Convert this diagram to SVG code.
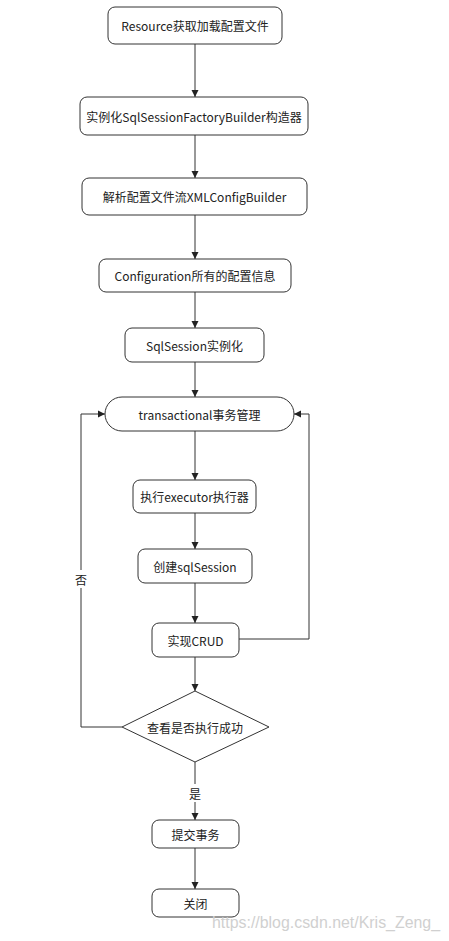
<svg xmlns="http://www.w3.org/2000/svg" width="449" height="941" viewBox="0 0 449 941">
<style>
.n{fill:#fff;stroke:#333;stroke-width:1}
.t{font-family:"Noto Sans CJK SC","Noto Sans",sans-serif;font-size:12px;fill:#222;text-anchor:middle;dominant-baseline:central}
.c{fill:none;stroke:#333;stroke-width:1}
.wm{font-family:"Liberation Sans",Arial,sans-serif;font-size:16px;fill:#d0d0d0}
</style>
<defs>
<marker id="a" markerWidth="8" markerHeight="8" refX="7" refY="4" orient="auto" markerUnits="userSpaceOnUse">
<path d="M0,0.5 L7,4 L0,7.5 Z" fill="#222"/>
</marker>
</defs>
<rect width="449" height="941" fill="#fff"/>
<g id="connectors">
<line class="c" x1="195" y1="44" x2="195" y2="97" marker-end="url(#a)"/>
<line class="c" x1="195" y1="135" x2="195" y2="178" marker-end="url(#a)"/>
<line class="c" x1="195" y1="215" x2="195" y2="259" marker-end="url(#a)"/>
<line class="c" x1="195" y1="292" x2="195" y2="328" marker-end="url(#a)"/>
<line class="c" x1="195" y1="362" x2="195" y2="397" marker-end="url(#a)"/>
<line class="c" x1="195" y1="431" x2="195" y2="480" marker-end="url(#a)"/>
<line class="c" x1="195" y1="513" x2="195" y2="549" marker-end="url(#a)"/>
<line class="c" x1="195" y1="583" x2="195" y2="623" marker-end="url(#a)"/>
<line class="c" x1="195" y1="657" x2="195" y2="691" marker-end="url(#a)"/>
<polyline class="c" points="239,639 309,639 309,414 294,414" marker-end="url(#a)"/>
<polyline class="c" points="122,727 81,727 81,414 105,414" marker-end="url(#a)"/>
<line class="c" x1="195" y1="762" x2="195" y2="820" marker-end="url(#a)"/>
<line class="c" x1="195" y1="848" x2="195" y2="889" marker-end="url(#a)"/>
<rect x="73" y="570" width="16" height="18" fill="#fff"/>
<text class="t" x="81" y="579">否</text>
<rect x="187" y="784" width="16" height="18" fill="#fff"/>
<text class="t" x="195" y="793">是</text>
</g>
<g id="n1"><rect class="n" x="108" y="7" width="174" height="37" rx="7"/><text class="t" x="195" y="25.5">Resource获取加载配置文件</text></g>
<g id="n2"><rect class="n" x="80" y="97" width="228" height="38" rx="7"/><text class="t" x="194" y="116">实例化SqlSessionFactoryBuilder构造器</text></g>
<g id="n3"><rect class="n" x="82" y="178" width="225" height="37" rx="7"/><text class="t" x="194.5" y="196.5">解析配置文件流XMLConfigBuilder</text></g>
<g id="n4"><rect class="n" x="99" y="259" width="192" height="33" rx="7"/><text class="t" x="195" y="275.5">Configuration所有的配置信息</text></g>
<g id="n5"><rect class="n" x="125" y="328" width="139" height="34" rx="7"/><text class="t" x="194.5" y="345">SqlSession实例化</text></g>
<g id="n6"><rect class="n" x="105" y="397" width="189" height="34" rx="17"/><text class="t" x="199.5" y="414">transactional事务管理</text></g>
<g id="n7"><rect class="n" x="133" y="480" width="123" height="33" rx="7"/><text class="t" x="194.5" y="496.5">执行executor执行器</text></g>
<g id="n8"><rect class="n" x="138" y="549" width="114" height="34" rx="7"/><text class="t" x="195" y="566">创建sqlSession</text></g>
<g id="n9"><rect class="n" x="152" y="623" width="87" height="34" rx="7"/><text class="t" x="195.5" y="640">实现CRUD</text></g>
<g id="n10"><polygon class="n" points="195,691 269,727 195,762 122,727"/><text class="t" x="195" y="727">查看是否执行成功</text></g>
<g id="n11"><rect class="n" x="152" y="820" width="87" height="28" rx="7"/><text class="t" x="195.5" y="834">提交事务</text></g>
<g id="n12"><rect class="n" x="152" y="889" width="87" height="28" rx="7"/><text class="t" x="195.5" y="903">关闭</text></g>
<text class="wm" x="212" y="928" textLength="228" lengthAdjust="spacingAndGlyphs">https://blog.csdn.net/Kris_Zeng_</text>
</svg>
